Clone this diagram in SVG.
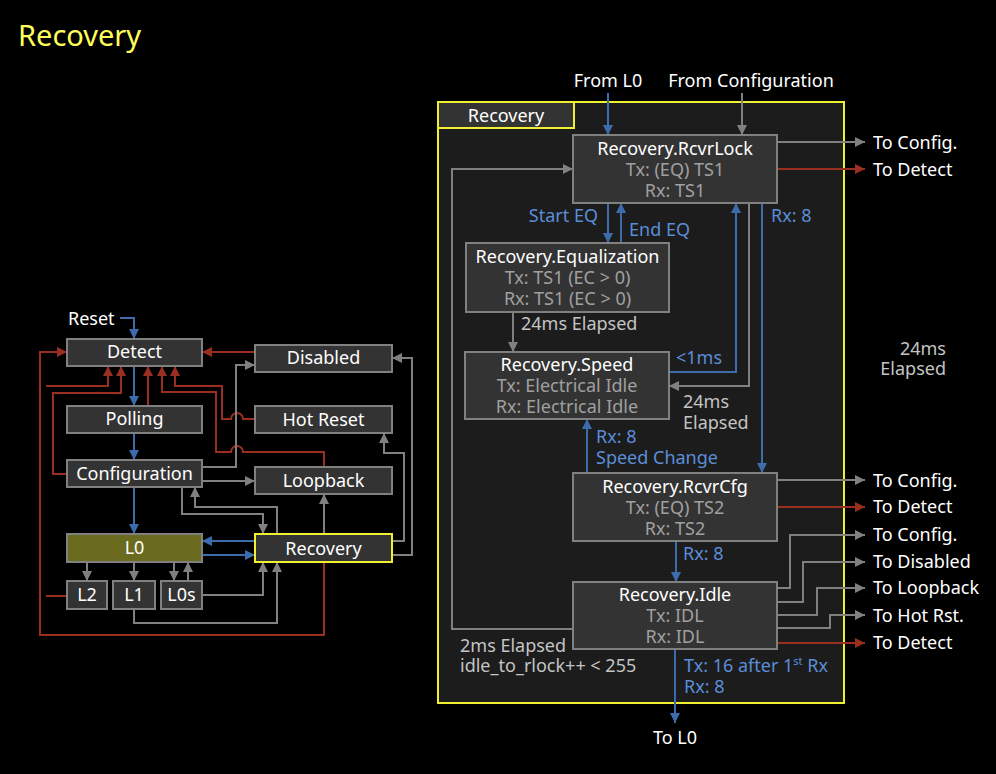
<svg xmlns="http://www.w3.org/2000/svg" width="996" height="774" viewBox="0 0 996 774">
<defs>
<marker id="ag" markerUnits="userSpaceOnUse" markerWidth="12" markerHeight="12" refX="10" refY="5" orient="auto"><path d="M0,0 L10,5 L0,10 z" fill="#808080"/></marker>
<marker id="ab" markerUnits="userSpaceOnUse" markerWidth="12" markerHeight="12" refX="10" refY="5" orient="auto"><path d="M0,0 L10,5 L0,10 z" fill="#3c6cab"/></marker>
<marker id="ar" markerUnits="userSpaceOnUse" markerWidth="12" markerHeight="12" refX="10" refY="5" orient="auto"><path d="M0,0 L10,5 L0,10 z" fill="#9a2e20"/></marker>
<style>
text{font-family:"Noto Sans","Open Sans","DejaVu Sans",sans-serif;font-size:18px}
.box{fill:#333333;stroke:#808080;stroke-width:2}
.t{fill:#ffffff;text-anchor:middle}
.s{fill:#a0a0a0;text-anchor:middle}
.w{fill:#ffffff}
.bl{fill:#5b8dd9}
.lg{fill:#c4c4c4}
.g{fill:none;stroke:#808080;stroke-width:2}
.b{fill:none;stroke:#3c6cab;stroke-width:2}
.r{fill:none;stroke:#9a2e20;stroke-width:2}
.ga{marker-end:url(#ag)}
.ba{marker-end:url(#ab)}
.ra{marker-end:url(#ar)}
</style>
</defs>
<rect x="0" y="0" width="996" height="774" fill="#000000"/>
<text x="18" y="46" style="font-size:29px" fill="#ffff5a">Recovery</text>

<!-- Right panel frame -->
<g id="recovery-panel">
<rect x="438" y="102" width="406" height="601" fill="#1c1c1c" stroke="#f0f030" stroke-width="2"/>
<rect x="438" y="102" width="136" height="26" fill="#333333" stroke="#f0f030" stroke-width="2"/>
<text x="506" y="122" class="t">Recovery</text>
</g>

<!-- Connectors -->
<g id="connectors">
<!-- left: blue -->
<path class="b ba" d="M120,318 H134 V339"/>
<path class="b ba" d="M134,366 V406"/>
<path class="b ba" d="M134,433 V460"/>
<path class="b ba" d="M134,487 V534"/>
<path class="b ba" d="M255,541 H202"/>
<path class="b ba" d="M202,555 H255"/>
<!-- left: red -->
<path class="r ra" d="M255,352 H202"/>
<path class="r ra" d="M324,562 V635 H40 V352 H67"/>
<path class="r" d="M66,596 H46"/>
<path class="r ra" d="M46,386 H108 V366"/>
<path class="r ra" d="M67,474 H53 V393 H121 V366"/>
<path class="r ra" d="M148,406 V366"/>
<path class="r ra" d="M324,467 V452 H243 A6,6 0 0 0 231,452 H216 V392 H162 V366"/>
<path class="r ra" d="M255,419 H243 A6,6 0 0 0 231,419 H222 V386 H175 V366"/>
<!-- left: gray -->
<path class="g ga" d="M202,467 H236 V365 H255"/>
<path class="g ga" d="M202,481 H255"/>
<path class="g ga" d="M182,487 V514 H263 V534"/>
<path class="g ga" d="M277,534 V507 H195 V487"/>
<path class="g ga" d="M87,562 V581"/>
<path class="g ga" d="M134,562 V581"/>
<path class="g ga" d="M174,562 V581"/>
<path class="g ga" d="M188,581 V562"/>
<path class="g ga" d="M202,595 H263 V562"/>
<path class="g ga" d="M134,609 V623 H277 V562"/>
<path class="g ga" d="M324,534 V494"/>
<path class="g ga" d="M392,541 H404 V453 H384 V433"/>
<path class="g ga" d="M392,555 H412 V358 H392"/>

<!-- right -->
<path class="b ba" d="M608,93 V135"/>
<path class="g ga" d="M742,93 V135"/>
<path class="g ga" d="M777,142 H865"/>
<path class="r ra" d="M777,169 H865"/>
<path class="g ga" d="M573,629 H452 V169 H573"/>
<path class="b ba" d="M608,203 V243"/>
<path class="b ba" d="M621,243 V203"/>
<path class="g ga" d="M513,312 V352"/>
<path class="b ba" d="M669,372 H736 V203"/>
<path class="g ga" d="M749,203 V386 H669"/>
<path class="b ba" d="M762,203 V473"/>
<path class="b ba" d="M587,473 V419"/>
<path class="g ga" d="M777,480 H865"/>
<path class="r ra" d="M777,507 H865"/>
<path class="b ba" d="M676,541 V582"/>
<path class="g ga" d="M777,588 H790 V535 H865"/>
<path class="g ga" d="M777,602 H803 V562 H865"/>
<path class="g ga" d="M777,615 H817 V588 H865"/>
<path class="g ga" d="M777,628 H830 V615 H865"/>
<path class="r ra" d="M777,643 H865"/>
<path class="b ba" d="M675,649 V723"/>
</g>

<!-- Left nodes -->
<text x="68" y="325" class="w">Reset</text>
<g id="detect"><rect class="box" x="67" y="339" width="135" height="27"/><text x="134.5" y="358" class="t">Detect</text></g>
<g id="polling"><rect class="box" x="67" y="406" width="135" height="27"/><text x="134.5" y="425" class="t">Polling</text></g>
<g id="configuration"><rect class="box" x="67" y="460" width="135" height="27"/><text x="134.5" y="480" class="t">Configuration</text></g>
<g id="l0"><rect x="67" y="534" width="135" height="28" fill="#6b6b1f" stroke="#808080" stroke-width="2"/><text x="134.5" y="554" class="t">L0</text></g>
<g id="l2"><rect class="box" x="67" y="581" width="40" height="28"/><text x="87" y="601" class="t">L2</text></g>
<g id="l1"><rect class="box" x="113" y="581" width="42" height="28"/><text x="134" y="601" class="t">L1</text></g>
<g id="l0s"><rect class="box" x="161" y="581" width="41" height="28"/><text x="181.5" y="601" class="t">L0s</text></g>
<g id="disabled"><rect class="box" x="255" y="345" width="137" height="27"/><text x="323.5" y="364" class="t">Disabled</text></g>
<g id="hotreset"><rect class="box" x="255" y="406" width="137" height="27"/><text x="323.5" y="426" class="t">Hot Reset</text></g>
<g id="loopback"><rect class="box" x="255" y="467" width="137" height="27"/><text x="323.5" y="487" class="t">Loopback</text></g>
<g id="recovery"><rect x="255" y="534" width="137" height="28" fill="#333333" stroke="#f0f030" stroke-width="2"/><text x="323.5" y="555" class="t">Recovery</text></g>

<!-- Right nodes -->
<g id="rcvrlock"><rect class="box" x="573" y="135" width="204" height="68"/>
<text x="675" y="155" class="t">Recovery.RcvrLock</text><text x="675" y="176" class="s">Tx: (EQ) TS1</text><text x="675" y="197" class="s">Rx: TS1</text></g>
<g id="equalization"><rect class="box" x="466" y="243" width="203" height="69"/>
<text x="567.5" y="263" class="t">Recovery.Equalization</text><text x="567.5" y="284" class="s">Tx: TS1 (EC &gt; 0)</text><text x="567.5" y="305" class="s">Rx: TS1 (EC &gt; 0)</text></g>
<g id="speed"><rect class="box" x="465" y="352" width="204" height="67"/>
<text x="567" y="371" class="t">Recovery.Speed</text><text x="567" y="392" class="s">Tx: Electrical Idle</text><text x="567" y="413" class="s">Rx: Electrical Idle</text></g>
<g id="rcvrcfg"><rect class="box" x="573" y="473" width="204" height="68"/>
<text x="675" y="493" class="t">Recovery.RcvrCfg</text><text x="675" y="514" class="s">Tx: (EQ) TS2</text><text x="675" y="535" class="s">Rx: TS2</text></g>
<g id="idle"><rect class="box" x="573" y="582" width="204" height="67"/>
<text x="675" y="601" class="t">Recovery.Idle</text><text x="675" y="622" class="s">Tx: IDL</text><text x="675" y="643" class="s">Rx: IDL</text></g>

<!-- Right labels -->
<text x="608" y="87" class="t">From L0</text>
<text x="751" y="87" class="t">From Configuration</text>
<text x="598" y="222" class="bl" text-anchor="end">Start EQ</text>
<text x="629" y="236" class="bl">End EQ</text>
<text x="521" y="330" class="lg">24ms Elapsed</text>
<text x="676" y="364" class="bl">&lt;1ms</text>
<text x="683" y="408" class="lg">24ms</text>
<text x="683" y="429" class="lg">Elapsed</text>
<text x="771" y="222" class="bl">Rx: 8</text>
<text x="596" y="443" class="bl">Rx: 8</text>
<text x="596" y="464" class="bl">Speed Change</text>
<text x="683" y="560" class="bl">Rx: 8</text>
<text x="460" y="652" class="lg">2ms Elapsed</text>
<text x="460" y="672" class="lg">idle_to_rlock++ &lt; 255</text>
<text x="684" y="672" class="bl">Tx: 16 after 1<tspan dy="-7" style="font-size:11px">st</tspan><tspan dy="7"> Rx</tspan></text>
<text x="684" y="693" class="bl">Rx: 8</text>
<text x="675" y="744" class="t">To L0</text>
<text x="946" y="355" class="lg" text-anchor="end">24ms</text>
<text x="946" y="375" class="lg" text-anchor="end">Elapsed</text>
<text x="873" y="149" class="w">To Config.</text>
<text x="873" y="176" class="w">To Detect</text>
<text x="873" y="487" class="w">To Config.</text>
<text x="873" y="513" class="w">To Detect</text>
<text x="873" y="541" class="w">To Config.</text>
<text x="873" y="568" class="w">To Disabled</text>
<text x="873" y="594" class="w">To Loopback</text>
<text x="873" y="622" class="w">To Hot Rst.</text>
<text x="873" y="649" class="w">To Detect</text>
</svg>
